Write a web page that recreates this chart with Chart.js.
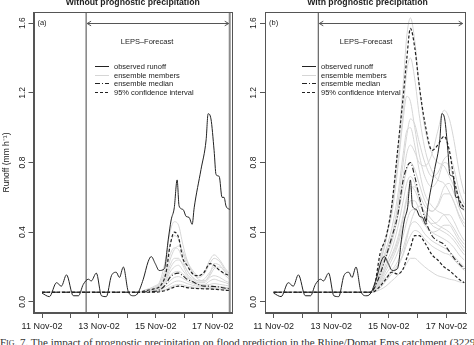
<!DOCTYPE html>
<html>
<head>
<meta charset="utf-8">
<script src="https://cdn.jsdelivr.net/npm/chart.js@4.4.1/dist/chart.umd.min.js"></script>
<style>
html, body { margin: 0; padding: 0; background: #fff; }
#wrap { position: relative; width: 474px; height: 345px; overflow: hidden; }
canvas { position: absolute; top: 0; }
#left { left: 0; }
#right { left: 237px; }
#caption { position: absolute; left: 0; top: 336px; font: 11px "Liberation Serif", "Times New Roman", serif;
  line-height: 13px; white-space: nowrap; color: #333; }
</style>
</head>
<body>
<div id="wrap">
  <canvas id="left" width="237" height="335"></canvas>
  <canvas id="right" width="237" height="335"></canvas>
  <div id="caption"><span style="font-variant: small-caps">Fig.</span> 7. The impact of prognostic precipitation on flood prediction in the Rhine/Domat Ems catchment (3229 km²)</div>
</div>
<script>
// time axis: days after 11 Nov 2002 00:00
var xTickDays = [0, 1, 2, 3, 4, 5, 6];
var xTickLabels = ['11 Nov-02', '', '13 Nov-02', '', '15 Nov-02', '', '17 Nov-02'];
var yTicks = [0, 0.4, 0.8, 1.2, 1.6];
var fcStart = 1.55;
var fcEnd = 6.6;
var legendLabels = ['observed runoff', 'ensemble members', 'ensemble median', '95% confidence interval'];

// observed runoff (same in both panels)
var obsDays = [0, 0.26, 0.51, 0.68, 0.86, 1.10, 1.28, 1.45, 1.63, 1.73, 1.91, 2.09, 2.26, 2.44, 2.61, 2.72, 2.86,
  3.03, 3.21, 3.35, 3.56, 3.73, 3.84, 3.98, 4.12, 4.30, 4.44, 4.54, 4.65, 4.75, 4.82, 4.96, 5.07, 5.17, 5.28,
  5.35, 5.59, 5.77, 5.84, 5.94, 6.05, 6.12, 6.23, 6.33, 6.40, 6.47, 6.6];
var obsRunoff = [0.05, 0.03, 0.11, 0.09, 0.155, 0.035, 0.035, 0.10, 0.13, 0.12, 0.165, 0.035, 0.03, 0.15, 0.17, 0.14, 0.20,
  0.06, 0.035, 0.045, 0.13, 0.23, 0.26, 0.22, 0.18, 0.19, 0.36, 0.47, 0.54, 0.70, 0.55, 0.53, 0.49, 0.485, 0.445,
  0.54, 0.76, 0.93, 1.08, 1.05, 0.87, 0.73, 0.72, 0.60, 0.60, 0.55, 0.53];

// panel (a): without prognostic precipitation
var daysA = [0, 3.35, 3.65, 3.95, 4.15, 4.35, 4.5, 4.65, 4.8, 4.95, 5.1, 5.3, 5.5, 5.7, 5.9, 6.05, 6.25, 6.45, 6.6];
var upperA = [0.055, 0.055, 0.065, 0.075, 0.09, 0.16, 0.32, 0.40, 0.37, 0.25, 0.21, 0.16, 0.15, 0.17, 0.22, 0.21, 0.18, 0.16, 0.15];
var medianA = [0.055, 0.055, 0.058, 0.06, 0.07, 0.10, 0.14, 0.16, 0.165, 0.15, 0.13, 0.115, 0.10, 0.09, 0.09, 0.088, 0.085, 0.078, 0.075];
var lowerA = [0.055, 0.055, 0.055, 0.055, 0.058, 0.065, 0.075, 0.085, 0.09, 0.088, 0.082, 0.078, 0.076, 0.075, 0.074, 0.072, 0.07, 0.066, 0.065];
var membersA = [
  [0.055, 0.055, 0.07, 0.09, 0.12, 0.25, 0.40, 0.46, 0.44, 0.33, 0.24, 0.18, 0.15, 0.17, 0.24, 0.27, 0.24, 0.19, 0.16],
  [0.055, 0.055, 0.068, 0.085, 0.11, 0.20, 0.33, 0.38, 0.36, 0.28, 0.21, 0.16, 0.14, 0.16, 0.22, 0.25, 0.23, 0.18, 0.15],
  [0.055, 0.055, 0.065, 0.08, 0.10, 0.17, 0.27, 0.31, 0.30, 0.24, 0.18, 0.14, 0.12, 0.13, 0.17, 0.20, 0.18, 0.15, 0.13],
  [0.055, 0.055, 0.063, 0.075, 0.09, 0.14, 0.21, 0.25, 0.25, 0.21, 0.16, 0.13, 0.11, 0.11, 0.14, 0.15, 0.14, 0.12, 0.11],
  [0.055, 0.055, 0.06, 0.07, 0.085, 0.12, 0.17, 0.20, 0.21, 0.18, 0.15, 0.12, 0.10, 0.10, 0.12, 0.13, 0.12, 0.11, 0.10],
  [0.055, 0.055, 0.06, 0.066, 0.08, 0.11, 0.15, 0.17, 0.175, 0.16, 0.14, 0.115, 0.10, 0.095, 0.10, 0.105, 0.10, 0.095, 0.09],
  [0.055, 0.055, 0.058, 0.063, 0.075, 0.095, 0.12, 0.14, 0.145, 0.135, 0.12, 0.105, 0.095, 0.09, 0.09, 0.09, 0.088, 0.083, 0.08],
  [0.055, 0.055, 0.057, 0.06, 0.068, 0.085, 0.10, 0.115, 0.12, 0.115, 0.105, 0.095, 0.088, 0.085, 0.083, 0.082, 0.08, 0.076, 0.073],
  [0.055, 0.055, 0.056, 0.058, 0.062, 0.072, 0.085, 0.095, 0.10, 0.097, 0.09, 0.085, 0.08, 0.078, 0.077, 0.076, 0.074, 0.07, 0.068],
  [0.055, 0.055, 0.055, 0.056, 0.06, 0.068, 0.078, 0.087, 0.09, 0.088, 0.083, 0.079, 0.077, 0.076, 0.075, 0.073, 0.071, 0.067, 0.064],
  [0.055, 0.055, 0.062, 0.075, 0.10, 0.15, 0.24, 0.30, 0.32, 0.29, 0.23, 0.17, 0.13, 0.12, 0.15, 0.19, 0.20, 0.17, 0.14],
  [0.055, 0.055, 0.06, 0.07, 0.09, 0.13, 0.19, 0.23, 0.24, 0.22, 0.18, 0.14, 0.12, 0.12, 0.16, 0.22, 0.21, 0.17, 0.14]
];

// panel (b): with prognostic precipitation
var daysB = [0, 3.35, 3.5, 3.7, 3.9, 4.1, 4.3, 4.5, 4.62, 4.75, 4.9, 5.05, 5.25, 5.5, 5.7, 5.92, 6.1, 6.27, 6.44, 6.62];
var upperB = [0.055, 0.055, 0.09, 0.28, 0.37, 0.55, 0.86, 1.18, 1.39, 1.57, 1.46, 1.25, 1.03, 0.87, 0.90, 0.95, 0.87, 0.70, 0.59, 0.54];
var medianB = [0.055, 0.055, 0.08, 0.16, 0.26, 0.37, 0.49, 0.70, 0.77, 0.80, 0.72, 0.61, 0.48, 0.38, 0.35, 0.33, 0.29, 0.25, 0.22, 0.19];
var lowerB = [0.055, 0.055, 0.06, 0.09, 0.13, 0.17, 0.16, 0.19, 0.25, 0.31, 0.38, 0.38, 0.34, 0.27, 0.24, 0.20, 0.18, 0.155, 0.13, 0.11];
var membersB = [
  [0.055, 0.055, 0.08, 0.22, 0.35, 0.55, 0.85, 1.25, 1.52, 1.63, 1.50, 1.25, 1.00, 0.85, 0.80, 0.78, 0.72, 0.66, 0.58, 0.52],
  [0.055, 0.055, 0.08, 0.25, 0.38, 0.50, 0.75, 1.05, 1.18, 1.15, 1.00, 0.85, 0.72, 0.66, 0.70, 0.80, 0.78, 0.70, 0.60, 0.53],
  [0.055, 0.055, 0.07, 0.18, 0.28, 0.38, 0.52, 0.72, 0.85, 0.90, 0.86, 0.80, 0.78, 0.85, 0.98, 1.10, 1.05, 0.92, 0.75, 0.62],
  [0.055, 0.055, 0.075, 0.20, 0.30, 0.42, 0.60, 0.85, 0.98, 1.00, 0.90, 0.76, 0.62, 0.55, 0.52, 0.50, 0.46, 0.42, 0.37, 0.33],
  [0.055, 0.055, 0.07, 0.17, 0.26, 0.34, 0.48, 0.66, 0.76, 0.80, 0.76, 0.68, 0.58, 0.52, 0.55, 0.62, 0.62, 0.57, 0.49, 0.43],
  [0.055, 0.055, 0.065, 0.14, 0.22, 0.30, 0.42, 0.58, 0.68, 0.72, 0.68, 0.60, 0.50, 0.44, 0.42, 0.40, 0.38, 0.35, 0.31, 0.27],
  [0.055, 0.055, 0.065, 0.12, 0.20, 0.27, 0.36, 0.50, 0.60, 0.66, 0.64, 0.58, 0.50, 0.45, 0.46, 0.50, 0.50, 0.46, 0.40, 0.35],
  [0.055, 0.055, 0.062, 0.11, 0.18, 0.24, 0.32, 0.44, 0.52, 0.58, 0.58, 0.53, 0.45, 0.40, 0.38, 0.36, 0.34, 0.31, 0.27, 0.24],
  [0.055, 0.055, 0.06, 0.10, 0.16, 0.21, 0.28, 0.38, 0.46, 0.52, 0.53, 0.50, 0.44, 0.40, 0.41, 0.44, 0.44, 0.40, 0.35, 0.31],
  [0.055, 0.055, 0.06, 0.09, 0.14, 0.18, 0.23, 0.31, 0.38, 0.44, 0.46, 0.44, 0.39, 0.35, 0.33, 0.31, 0.29, 0.26, 0.23, 0.20],
  [0.055, 0.055, 0.058, 0.08, 0.12, 0.16, 0.20, 0.27, 0.33, 0.38, 0.41, 0.40, 0.36, 0.32, 0.30, 0.28, 0.27, 0.24, 0.21, 0.18],
  [0.055, 0.055, 0.057, 0.07, 0.09, 0.12, 0.15, 0.19, 0.22, 0.25, 0.25, 0.23, 0.20, 0.17, 0.15, 0.14, 0.13, 0.125, 0.115, 0.11],
  [0.055, 0.055, 0.075, 0.22, 0.36, 0.52, 0.78, 1.10, 1.32, 1.40, 1.28, 1.08, 0.88, 0.75, 0.70, 0.68, 0.63, 0.57, 0.50, 0.45],
  [0.055, 0.055, 0.07, 0.16, 0.25, 0.36, 0.55, 0.80, 0.95, 1.05, 1.02, 0.92, 0.80, 0.72, 0.74, 0.82, 0.84, 0.76, 0.64, 0.56],
  [0.055, 0.055, 0.06, 0.10, 0.14, 0.17, 0.21, 0.28, 0.36, 0.45, 0.52, 0.55, 0.52, 0.47, 0.44, 0.42, 0.40, 0.37, 0.33, 0.29],
  [0.055, 0.055, 0.065, 0.13, 0.20, 0.26, 0.34, 0.48, 0.58, 0.65, 0.66, 0.62, 0.55, 0.52, 0.56, 0.66, 0.68, 0.62, 0.54, 0.47]
];

var FONT = '"Liberation Sans", Arial, Helvetica, sans-serif';
var DARK = '#222';
var MEMBER = '#d6d6d6';
var legendStyles = [
  { color: DARK, width: 1, dash: [] },
  { color: MEMBER, width: 1, dash: [] },
  { color: DARK, width: 1.1, dash: [5, 2, 1, 2] },
  { color: DARK, width: 1.2, dash: [3, 2] }
];

function pts(days, vals) {
  var out = [];
  for (var i = 0; i < vals.length; i++) out.push({ x: days[i], y: vals[i] });
  return out;
}

function line(data, color, width, dash, order, straight) {
  return {
    data: data, borderColor: color, borderWidth: width, borderDash: dash,
    pointRadius: 0, fill: false, order: order,
    cubicInterpolationMode: straight ? 'default' : 'monotone', tension: 0
  };
}

// box, rotated y labels, titles, arrow, text and legend
var decor = {
  id: 'decor',
  afterDraw: function (chart, args, o) {
    var ctx = chart.ctx, a = chart.chartArea;
    var xs = chart.scales.x, ys = chart.scales.y;
    ctx.save();
    ctx.strokeStyle = '#555';
    ctx.lineWidth = 1;
    ctx.strokeRect(Math.round(a.left) + 0.5, Math.round(a.top) + 0.5,
      Math.round(a.right - a.left) - 1, Math.round(a.bottom - a.top) - 1);

    ctx.fillStyle = DARK;
    ctx.font = '8.5px ' + FONT;
    ctx.textAlign = 'center';
    ctx.textBaseline = 'alphabetic';
    yTicks.forEach(function (v) {
      ctx.save();
      ctx.translate(a.left - 9, ys.getPixelForValue(v));
      ctx.rotate(-Math.PI / 2);
      ctx.fillText(v.toFixed(1), 0, 0);
      ctx.restore();
    });

    ctx.font = 'bold 8.7px ' + FONT;
    ctx.fillText(o.title, (a.left + a.right) / 2 + o.titleDx, 4.5);

    ctx.font = '7.5px ' + FONT;
    ctx.textBaseline = 'middle';
    ctx.fillText(o.panel, xs.getPixelForValue(0), ys.getPixelForValue(1.6));
    ctx.fillText('LEPS\u2013Forecast', a.left + o.lepsX, a.top + 30);

    // arrow over the forecast period
    var ay = Math.round(ys.getPixelForValue(1.6)) + 0.5;
    var x1 = xs.getPixelForValue(fcStart) + 1, x2 = xs.getPixelForValue(fcEnd) - 1;
    ctx.strokeStyle = '#555';
    ctx.beginPath();
    ctx.moveTo(x1, ay); ctx.lineTo(x2, ay);
    ctx.moveTo(x1 + 4, ay - 2.3); ctx.lineTo(x1, ay); ctx.lineTo(x1 + 4, ay + 2.3);
    ctx.moveTo(x2 - 4, ay - 2.3); ctx.lineTo(x2, ay); ctx.lineTo(x2 - 4, ay + 2.3);
    ctx.stroke();

    // legend
    ctx.textAlign = 'left';
    legendLabels.forEach(function (lab, i) {
      var y = Math.round(a.top + 54 + i * 8.5) + 0.5;
      var s = legendStyles[i];
      ctx.strokeStyle = s.color;
      ctx.lineWidth = s.width;
      ctx.setLineDash(s.dash);
      ctx.beginPath();
      ctx.moveTo(a.left + o.legX, y);
      ctx.lineTo(a.left + o.legX + 14, y);
      ctx.stroke();
      ctx.setLineDash([]);
      ctx.fillStyle = DARK;
      ctx.fillText(lab, a.left + o.legX + 19, y);
    });
    ctx.restore();
  }
};

function makeChart(id, p) {
  var sets = [];
  sets.push(line(pts(obsDays, obsRunoff), DARK, 1, [], 0));
  sets.push(line(pts(p.days, p.median), DARK, 1.1, [5, 2, 1, 2], 1));
  sets.push(line(pts(p.days, p.upper), DARK, 1.2, [3, 2], 2));
  sets.push(line(pts(p.days, p.lower), DARK, 1.2, [3, 2], 2));
  sets.push(line([{ x: fcStart, y: -0.064 }, { x: fcStart, y: 1.664 }], '#444', 1, [], 3, true));
  if (p.endLine) {
    sets.push(line([{ x: fcEnd, y: -0.064 }, { x: fcEnd, y: 1.664 }], '#8c8c8c', 2, [], 3, true));
  }
  p.members.forEach(function (m) {
    sets.push(line(pts(p.days, m), MEMBER, 1, [], 4));
  });

  return new Chart(document.getElementById(id), {
    type: 'line',
    data: { datasets: sets },
    options: {
      responsive: false,
      animation: false,
      events: [],
      layout: { padding: { left: 0, right: p.padRight, top: 12, bottom: 0 } },
      plugins: {
        legend: { display: false },
        tooltip: { enabled: false },
        decor: p.decor
      },
      scales: {
        x: {
          type: 'linear', min: -0.3, max: 6.68,
          afterBuildTicks: function (s) { s.ticks = xTickDays.map(function (v) { return { value: v }; }); },
          afterFit: function (s) { s.height = 22; },
          ticks: {
            autoSkip: false, maxRotation: 0, minRotation: 0, padding: 3, color: DARK,
            font: { size: 9, family: FONT },
            callback: function (v, i) { return xTickLabels[i]; }
          },
          grid: { drawOnChartArea: false, drawTicks: true, tickLength: 5, color: '#555' },
          border: { display: true, color: '#555' }
        },
        y: {
          type: 'linear', min: -0.064, max: 1.664,
          afterBuildTicks: function (s) { s.ticks = yTicks.map(function (v) { return { value: v }; }); },
          afterFit: function (s) { s.width = p.yWidth; },
          ticks: { display: false },
          grid: { drawOnChartArea: false, drawTicks: true, tickLength: 5, color: '#555' },
          border: { display: true, color: '#555' },
          title: {
            display: p.yTitle, text: 'Runoff (mm h\u207B\u00B9)', color: DARK,
            font: { size: 8.5, family: FONT }, padding: { top: 2, bottom: 0 }
          }
        }
      }
    },
    plugins: [decor]
  });
}

makeChart('left', {
  days: daysA, upper: upperA, median: medianA, lower: lowerA, members: membersA,
  endLine: true, yTitle: true, yWidth: 33.5, padRight: 5,
  decor: { title: 'Without prognostic precipitation', titleDx: 0, panel: '(a)', lepsX: 113.5, legX: 61.5 }
});

makeChart('right', {
  days: daysB, upper: upperB, median: medianB, lower: lowerB, members: membersB,
  endLine: false, yTitle: false, yWidth: 28, padRight: 8,
  decor: { title: 'With prognostic precipitation', titleDx: 2, panel: '(b)', lepsX: 101, legX: 37 }
});
</script>
</body>
</html>
